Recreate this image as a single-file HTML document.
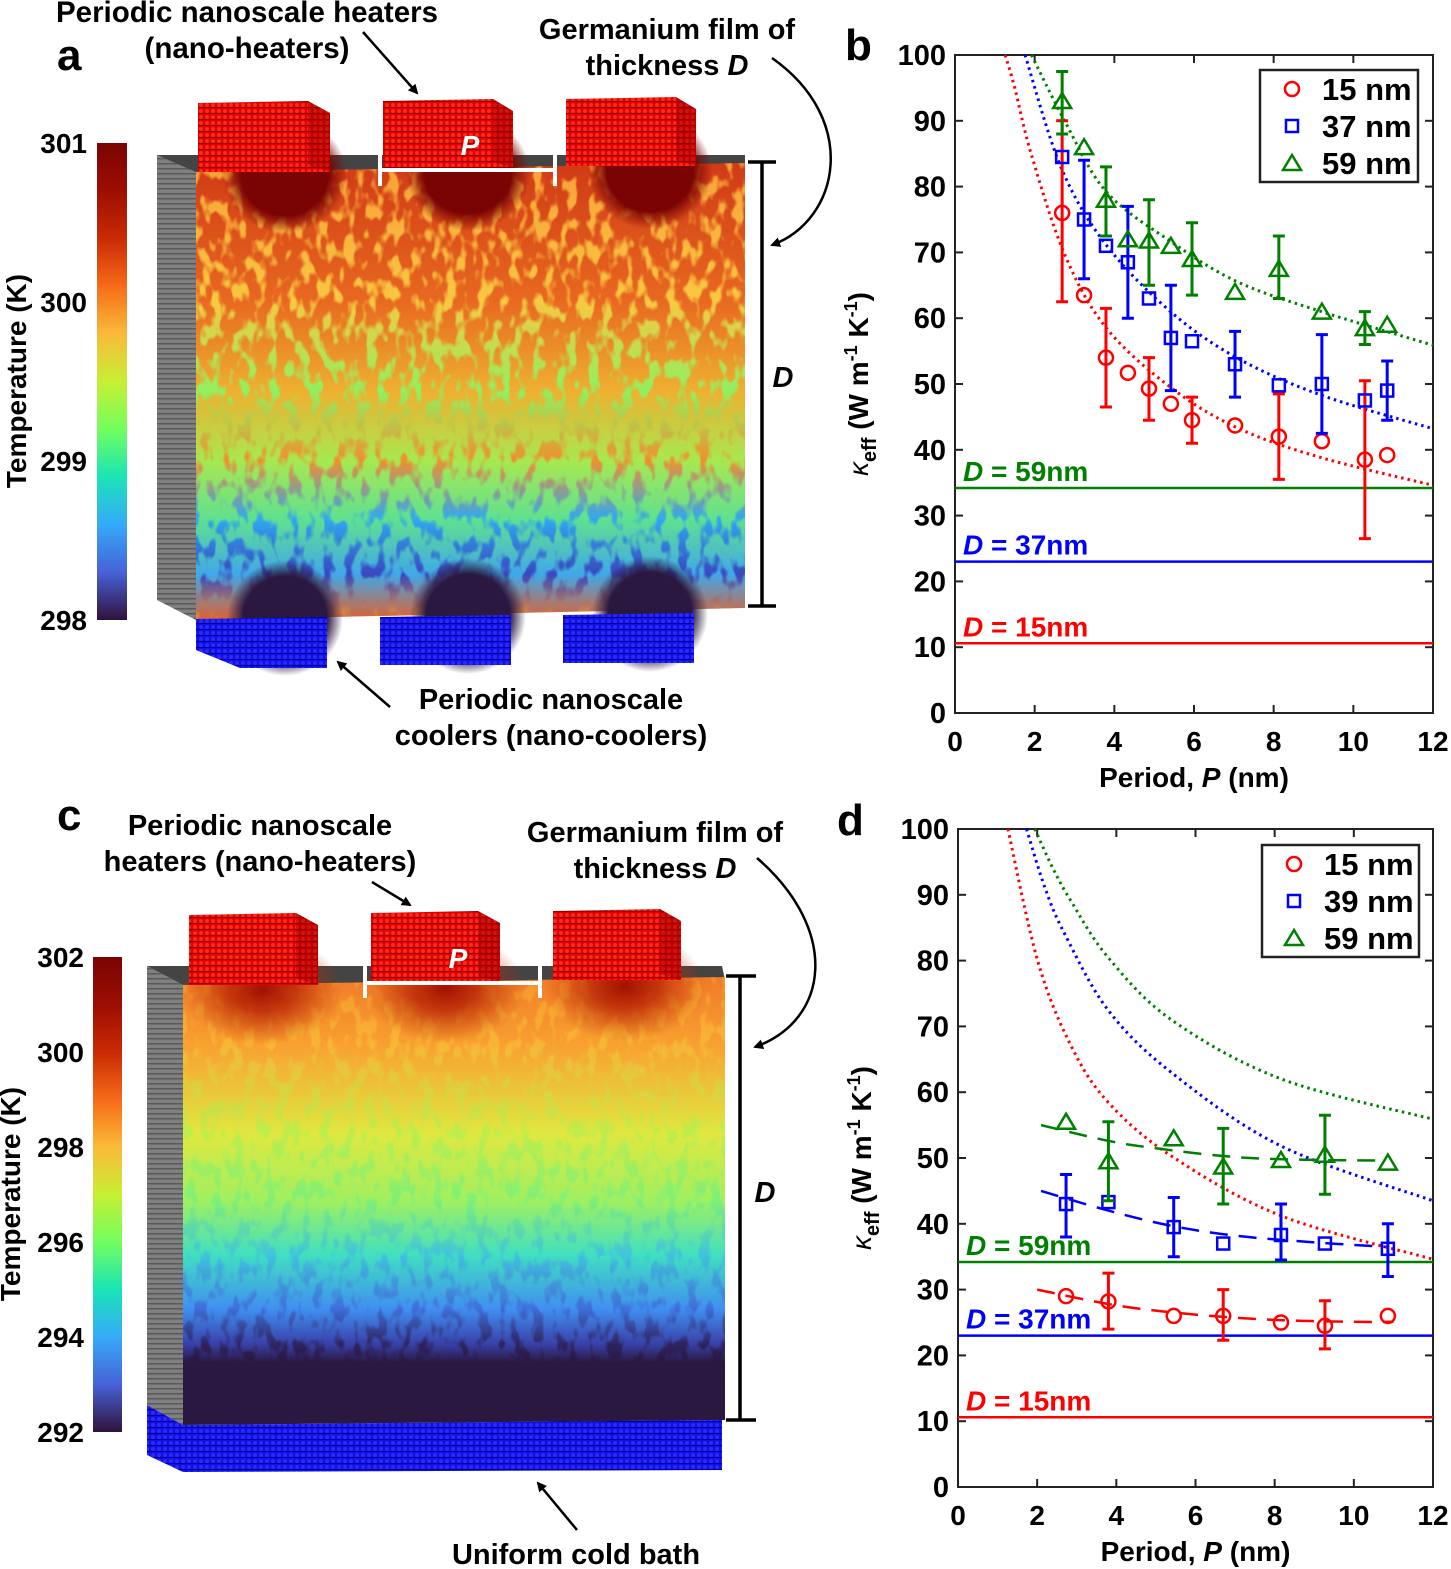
<!DOCTYPE html>
<html><head><meta charset="utf-8"><style>
html,body{margin:0;padding:0;background:#fff;}
svg{display:block;font-family:"Liberation Sans",Arial,sans-serif;font-weight:bold;}
</style></head><body>
<svg id="fig" width="1451" height="1569" viewBox="0 0 1451 1569" xmlns="http://www.w3.org/2000/svg">
<defs>
<linearGradient id="turbo" x1="0" y1="1" x2="0" y2="0">
<stop offset="0" stop-color="#30123b"/><stop offset="0.1" stop-color="#4662d7"/><stop offset="0.2" stop-color="#36aaf9"/><stop offset="0.3" stop-color="#1ae4b6"/><stop offset="0.4" stop-color="#72fe5e"/><stop offset="0.5" stop-color="#c8ef34"/><stop offset="0.6" stop-color="#faba39"/><stop offset="0.7" stop-color="#f66b19"/><stop offset="0.8" stop-color="#ca2a04"/><stop offset="0.9" stop-color="#9c0e02"/><stop offset="1" stop-color="#7a0403"/>
</linearGradient>
<linearGradient id="filmA" x1="0" y1="0" x2="0" y2="1">
<stop offset="0" stop-color="#d03a16"/><stop offset="0.3" stop-color="#e86820"/><stop offset="0.5" stop-color="#eeb030"/><stop offset="0.65" stop-color="#a8e850"/><stop offset="0.78" stop-color="#60e090"/><stop offset="0.9" stop-color="#40a8e8"/><stop offset="1" stop-color="#e06030"/>
</linearGradient>
<linearGradient id="filmA2" x1="0" y1="0" x2="0" y2="1">
<stop offset="0" stop-color="#f8a038"/><stop offset="0.3" stop-color="#f8c840"/><stop offset="0.5" stop-color="#90f060"/><stop offset="0.65" stop-color="#f09030"/><stop offset="0.78" stop-color="#30a8f0"/><stop offset="0.9" stop-color="#3848c0"/><stop offset="1" stop-color="#f09030"/>
</linearGradient>
<linearGradient id="filmC" x1="0" y1="0" x2="0" y2="1">
<stop offset="0" stop-color="#f07a28"/><stop offset="0.15" stop-color="#f8a030"/><stop offset="0.35" stop-color="#e0e840"/><stop offset="0.5" stop-color="#a0f060"/><stop offset="0.62" stop-color="#40e0c0"/><stop offset="0.74" stop-color="#4090f0"/><stop offset="0.82" stop-color="#3840a8"/><stop offset="0.86" stop-color="#2a1840"/><stop offset="1" stop-color="#2a1840"/>
</linearGradient>
<linearGradient id="filmC2" x1="0" y1="0" x2="0" y2="1">
<stop offset="0" stop-color="#f8a030"/><stop offset="0.15" stop-color="#f8c038"/><stop offset="0.35" stop-color="#b0f050"/><stop offset="0.5" stop-color="#70f080"/><stop offset="0.62" stop-color="#40b8e8"/><stop offset="0.74" stop-color="#4060d0"/><stop offset="0.82" stop-color="#2a1840"/><stop offset="1" stop-color="#2a1840"/>
</linearGradient>
<radialGradient id="hot"><stop offset="0" stop-color="#7a0403"/><stop offset="0.7" stop-color="#7a0403"/><stop offset="1" stop-color="#7a0403" stop-opacity="0"/></radialGradient>
<radialGradient id="hotSoft"><stop offset="0" stop-color="#a01003"/><stop offset="0.4" stop-color="#b82004" stop-opacity="0.8"/><stop offset="1" stop-color="#c03004" stop-opacity="0"/></radialGradient>
<radialGradient id="cold"><stop offset="0" stop-color="#2a1840"/><stop offset="0.72" stop-color="#2a1840"/><stop offset="1" stop-color="#2a1840" stop-opacity="0"/></radialGradient>
<filter id="nmask" x="0" y="0" width="100%" height="100%">
<feTurbulence type="fractalNoise" baseFrequency="0.09 0.05" numOctaves="2" seed="5"/>
<feColorMatrix type="matrix" values="0 0 0 0 1  0 0 0 0 1  0 0 0 0 1  6 0 0 0 -2.9"/>
</filter>
<mask id="noiseMask" maskUnits="userSpaceOnUse" x="0" y="0" width="1451" height="1569"><rect x="0" y="0" width="1451" height="1569" filter="url(#nmask)"/></mask>
<pattern id="hatchR" width="6" height="6" patternUnits="userSpaceOnUse"><rect width="6" height="6" fill="#e00000"/><circle cx="3" cy="3" r="2" fill="#ff2a1a"/><rect x="0" y="5" width="6" height="1" fill="#900000"/></pattern>
<pattern id="hatchB" width="6" height="6" patternUnits="userSpaceOnUse"><rect width="6" height="6" fill="#1010e0"/><circle cx="3" cy="3" r="2" fill="#2a2aff"/><rect x="0" y="5" width="6" height="1" fill="#0000a0"/></pattern>
<pattern id="hatchG" width="5" height="5" patternUnits="userSpaceOnUse"><rect width="5" height="5" fill="#808080"/><rect x="0" y="3" width="5" height="1.5" fill="#5a5a5a"/></pattern>
<marker id="arr" markerWidth="10" markerHeight="10" refX="8" refY="5" orient="auto" markerUnits="userSpaceOnUse"><path d="M0,0 L10,5 L0,10 z" fill="#000"/></marker>
</defs>

<!-- ===== Panel a ===== -->
<g>
<text x="57" y="70" font-size="44">a</text>
<text x="247" y="22" font-size="29.5" text-anchor="middle">Periodic nanoscale heaters</text>
<text x="247" y="58" font-size="29.5" text-anchor="middle">(nano-heaters)</text>
<line x1="363" y1="32" x2="417" y2="93" stroke="#000" stroke-width="2.5" marker-end="url(#arr)"/>
<text x="667" y="39" font-size="29" text-anchor="middle">Germanium film of</text>
<text x="667" y="75" font-size="29" text-anchor="middle">thickness <tspan font-style="italic">D</tspan></text>
<path d="M772,58 C860,120 840,220 772,245" fill="none" stroke="#000" stroke-width="2.5" marker-end="url(#arr)"/>
<polygon points="157,155 196,170 196,620 157,600" fill="url(#hatchG)"/>
<polygon points="157,155 745,155 745,170 196,172" fill="#444"/>
<g>
<polygon points="196,172 745,163 745,608 196,620" fill="url(#filmA)"/>
<polygon points="196,172 745,163 745,608 196,620" fill="url(#filmA2)" mask="url(#noiseMask)"/>
<ellipse cx="285" cy="175" rx="62" ry="58" fill="url(#hot)"/>
<ellipse cx="468" cy="173" rx="62" ry="58" fill="url(#hot)"/>
<ellipse cx="650" cy="171" rx="62" ry="58" fill="url(#hot)"/>
<ellipse cx="285" cy="618" rx="58" ry="58" fill="url(#cold)"/>
<ellipse cx="468" cy="616" rx="58" ry="58" fill="url(#cold)"/>
<ellipse cx="650" cy="614" rx="58" ry="58" fill="url(#cold)"/>
</g>
<g>
<polygon points="198,103 308,101 330,113 330,172 198,172" fill="url(#hatchR)"/><polygon points="308,101 330,113 330,172 308,165" fill="#a00000" opacity="0.5"/>
<polygon points="383,101 493,99 513,111 513,168 383,168" fill="url(#hatchR)"/><polygon points="493,99 513,111 513,168 493,162" fill="#a00000" opacity="0.5"/>
<polygon points="566,99 676,97 696,109 696,166 566,166" fill="url(#hatchR)"/><polygon points="676,97 696,109 696,166 676,160" fill="#a00000" opacity="0.5"/>
</g>
<g>
<polygon points="196,619 327,617 327,668 240,668 196,650" fill="url(#hatchB)"/>
<polygon points="380,617 511,615 511,665 380,665" fill="url(#hatchB)"/>
<polygon points="563,615 694,613 694,663 563,663" fill="url(#hatchB)"/>
</g>
<g stroke="#fff" stroke-width="4"><line x1="380" y1="170" x2="555" y2="170"/><line x1="380" y1="153" x2="380" y2="186"/><line x1="555" y1="153" x2="555" y2="186"/></g>
<text x="470" y="155" font-size="28" font-style="italic" fill="#fff" text-anchor="middle">P</text>
<g stroke="#000" stroke-width="3.5"><line x1="762" y1="162" x2="762" y2="606"/><line x1="748" y1="162" x2="776" y2="162"/><line x1="748" y1="606" x2="776" y2="606"/></g>
<text x="783" y="387" font-size="29" font-style="italic" text-anchor="middle">D</text>
<text x="551" y="709" font-size="29" text-anchor="middle">Periodic nanoscale</text>
<text x="551" y="745" font-size="29" text-anchor="middle">coolers (nano-coolers)</text>
<line x1="390" y1="707" x2="338" y2="662" stroke="#000" stroke-width="2.5" marker-end="url(#arr)"/>
<rect x="97" y="143" width="30" height="477" fill="url(#turbo)"/>
<g font-size="28" text-anchor="end">
<text x="87" y="153">301</text><text x="87" y="312">300</text><text x="87" y="471">299</text><text x="87" y="630">298</text></g>
<text transform="translate(26,381) rotate(-90)" font-size="28" text-anchor="middle">Temperature (K)</text>
</g>

<!-- ===== Panel c ===== -->
<g>
<text x="57" y="830" font-size="44">c</text>
<text x="260" y="835" font-size="29" text-anchor="middle">Periodic nanoscale</text>
<text x="260" y="871" font-size="29" text-anchor="middle">heaters (nano-heaters)</text>
<line x1="372" y1="882" x2="410" y2="905" stroke="#000" stroke-width="2.5" marker-end="url(#arr)"/>
<text x="655" y="842" font-size="29" text-anchor="middle">Germanium film of</text>
<text x="655" y="878" font-size="29" text-anchor="middle">thickness <tspan font-style="italic">D</tspan></text>
<path d="M757,858 C840,930 830,1020 755,1047" fill="none" stroke="#000" stroke-width="2.5" marker-end="url(#arr)"/>
<polygon points="147,966 183,985 183,1425 147,1405" fill="url(#hatchG)"/>
<polygon points="147,966 722,966 725,980 183,985" fill="#444"/>
<g>
<polygon points="183,985 725,977 725,1420 183,1425" fill="url(#filmC)"/>
<polygon points="183,985 725,977 725,1420 183,1425" fill="url(#filmC2)" mask="url(#noiseMask)" opacity="0.7"/>
<ellipse cx="262" cy="990" rx="80" ry="55" fill="url(#hotSoft)"/>
<ellipse cx="445" cy="988" rx="80" ry="55" fill="url(#hotSoft)"/>
<ellipse cx="625" cy="986" rx="80" ry="55" fill="url(#hotSoft)"/>
</g>
<g>
<polygon points="189,915 296,913 318,925 318,985 189,985" fill="url(#hatchR)"/><polygon points="296,913 318,925 318,985 296,978" fill="#a00000" opacity="0.5"/>
<polygon points="371,913 478,911 500,923 500,982 371,982" fill="url(#hatchR)"/><polygon points="478,911 500,923 500,982 478,976" fill="#a00000" opacity="0.5"/>
<polygon points="553,911 660,909 681,921 681,980 553,980" fill="url(#hatchR)"/><polygon points="660,909 681,921 681,980 660,974" fill="#a00000" opacity="0.5"/>
</g>
<polygon points="147,1405 183,1425 722,1420 722,1470 183,1472 147,1455" fill="url(#hatchB)"/>
<g stroke="#fff" stroke-width="4"><line x1="365" y1="983" x2="540" y2="983"/><line x1="365" y1="966" x2="365" y2="998"/><line x1="540" y1="966" x2="540" y2="998"/></g>
<text x="458" y="968" font-size="28" font-style="italic" fill="#fff" text-anchor="middle">P</text>
<g stroke="#000" stroke-width="3.5"><line x1="740" y1="976" x2="740" y2="1420"/><line x1="726" y1="976" x2="756" y2="976"/><line x1="726" y1="1420" x2="756" y2="1420"/></g>
<text x="765" y="1202" font-size="29" font-style="italic" text-anchor="middle">D</text>
<text x="576" y="1564" font-size="29" text-anchor="middle">Uniform cold bath</text>
<line x1="577" y1="1530" x2="538" y2="1483" stroke="#000" stroke-width="2.5" marker-end="url(#arr)"/>
<rect x="93" y="957" width="29" height="475" fill="url(#turbo)"/>
<g font-size="28" text-anchor="end">
<text x="84" y="967">302</text><text x="84" y="1062">300</text><text x="84" y="1157">298</text><text x="84" y="1252">296</text><text x="84" y="1347">294</text><text x="84" y="1442">292</text></g>
<text transform="translate(20,1194) rotate(-90)" font-size="28" text-anchor="middle">Temperature (K)</text>
</g>

<g id="chartB"></g>
<g id="chartD"></g>
</svg>

<script>
// ---------- data ----------
const xTicks = [0, 2, 4, 6, 8, 10, 12];
const yTicks = [0, 10, 20, 30, 40, 50, 60, 70, 80, 90, 100];
// panel b
const bP = [2.69, 3.24, 3.79, 4.34, 4.87, 5.42, 5.95, 7.03, 8.13, 9.21, 10.29, 10.85];
const b15 = [76, 63.5, 54, 51.7, 49.3, 47, 44.5, 43.7, 42, 41.3, 38.5, 39.2];
const b15lo = [62.5, null, 46.5, null, 44.5, null, 41, null, 35.5, null, 26.5, null];
const b15hi = [90, null, 61.5, null, 54, null, 48, null, 48.5, null, 50.5, null];
const b37 = [84.5, 75, 71, 68.5, 63, 57, 56.5, 53, 49.8, 50, 47.5, 49];
const b37lo = [null, 66, null, 60, null, 49, null, 48, null, 42.5, null, 44.5];
const b37hi = [null, 84, null, 77, null, 65, null, 58, null, 57.5, null, 53.5];
const b59 = [93, 86, 78, 72, 71.8, 71, 69, 64, 67.5, 61, 58.5, 59];
const b59lo = [88, null, 72.5, null, 65, null, 63.5, null, 63, null, 56, null];
const b59hi = [97.5, null, 83, null, 78, null, 74.5, null, 72.5, null, 61, null];
// model curves in b (period, kappa)
const bModelP15 = [1.26, 1.5, 1.92, 2.76, 3.8, 5.43, 7.1, 9.2, 12];
const bModel15 = [100, 95, 84.8, 69.6, 58.5, 49.4, 43.3, 38.8, 34.6];
const bModelP37 = [1.76, 2.67, 3.8, 5.43, 7.1, 9.2, 12];
const bModel37 = [100, 82.8, 71.1, 60.9, 53.9, 48.3, 43.2];
const bModelP59 = [1.92, 2.76, 3.8, 5.43, 7.1, 9.2, 12];
const bModel59 = [100, 89.9, 79.2, 71.6, 65.5, 61, 55.9];
// panel d
const dP = [2.73, 3.8, 5.45, 6.7, 8.16, 9.27, 10.86];
const d15 = [29, 28.2, 26, 26, 25, 24.5, 26];
const d15lo = [null, 24, null, 22.3, null, 21, null];
const d15hi = [null, 32.5, null, 30, null, 28.3, null];
const d39 = [43, 43.3, 39.5, 37, 38.3, 37, 36.2];
const d39lo = [38, null, 35, null, 34.5, null, 32];
const d39hi = [47.5, null, 44, null, 43, null, 40];
const d59 = [55.5, 49.5, 53, 48.7, 49.7, 50.5, 49.3];
const d59lo = [null, 43.5, null, 43, null, 44.5, null];
const d59hi = [null, 55.5, null, 54.5, null, 56.5, null];
// model curves in d
const dModelP15 = [1.26, 2.02, 2.86, 3.79, 5.39, 8.17, 12];
const dModel15 = [100, 79.8, 67, 58.5, 50.3, 41.2, 34.6];
const dModelP39 = [1.73, 2.2, 2.7, 3.79, 5.39, 8.17, 12];
const dModel39 = [100, 91, 84, 72.5, 63, 51.8, 43.5];
const dModelP59 = [1.94, 2.4, 2.86, 3.79, 5.39, 8.17, 12];
const dModel59 = [100, 94, 89, 80.5, 71, 62, 55.9];
// dashed trend lines in d
const trendP15 = [2, 4, 6, 8, 10, 11];
const trend15 = [30, 27.6, 26.2, 25.4, 25.1, 25.1];
const trendP39 = [2.1, 3.8, 5.39, 7, 8.96, 10.8];
const trend39 = [45, 42, 39.7, 38.2, 37.2, 36.5];
const trendP59 = [2.1, 3.8, 5.1, 6.7, 8.2, 10.8];
const trend59 = [55, 52.6, 51.4, 50.3, 49.8, 49.6];
// bulk film lines
const bulkVals = [34.2, 23, 10.6];
const bulkLabels = ["59nm", "37nm", "15nm"];
const colors = ["#ff0000", "#0000ff", "#008000"];
const legendB = ["15 nm", "37 nm", "59 nm"];
const legendD = ["15 nm", "39 nm", "59 nm"];

const NS = "http://www.w3.org/2000/svg";
function el(parent, tag, attrs) {
  const e = document.createElementNS(NS, tag);
  for (const k in attrs) e.setAttribute(k, attrs[k]);
  parent.appendChild(e);
  return e;
}
function smoothPath(pts) {
  let d = "M" + pts[0][0].toFixed(1) + "," + pts[0][1].toFixed(1);
  for (let i = 0; i < pts.length - 1; i++) {
    const p0 = pts[Math.max(0, i - 1)], p1 = pts[i], p2 = pts[i + 1], p3 = pts[Math.min(pts.length - 1, i + 2)];
    const c1x = p1[0] + (p2[0] - p0[0]) / 6, c1y = p1[1] + (p2[1] - p0[1]) / 6;
    const c2x = p2[0] - (p3[0] - p1[0]) / 6, c2y = p2[1] - (p3[1] - p1[1]) / 6;
    d += `C${c1x.toFixed(1)},${c1y.toFixed(1)} ${c2x.toFixed(1)},${c2y.toFixed(1)} ${p2[0].toFixed(1)},${p2[1].toFixed(1)}`;
  }
  return d;
}
function marker(g, kind, cx, cy, col) {
  let m;
  if (kind === 0) m = el(g, "circle", {cx: cx, cy: cy, r: 7, fill: "none", stroke: col, "stroke-width": 2.5});
  else if (kind === 1) m = el(g, "rect", {x: cx - 6, y: cy - 6, width: 12, height: 12, fill: "none", stroke: col, "stroke-width": 2.5});
  else m = el(g, "polygon", {points: `${cx},${cy - 8} ${cx + 9},${cy + 7} ${cx - 9},${cy + 7}`, fill: "none", stroke: col, "stroke-width": 2.5});
  return m;
}

function chart(root, L, R, T, B, label, labelX, labelY, P, series, lo, hi, legend, legBox, models, trends) {
  const sx = v => L + (v / 12) * (R - L);
  const sy = v => B - (v / 100) * (B - T);
  const t = el(root, "text", {x: labelX, y: labelY, "font-size": 44});
  t.textContent = label;
  
  
  const frame = el(root, "rect", {x: L, y: T, width: R - L, height: B - T, fill: "none", stroke: "#222", "stroke-width": 2});
  
  
  xTicks.forEach(v => {
    const x = sx(v);
    el(root, "line", {x1: x, y1: B, x2: x, y2: B - 8, stroke: "#222", "stroke-width": 2});
    el(root, "line", {x1: x, y1: T, x2: x, y2: T + 8, stroke: "#222", "stroke-width": 2});
    const tx = el(root, "text", {x: x, y: B + 38, "font-size": 28, "text-anchor": "middle"});
    tx.textContent = v;
    
    
  });
  yTicks.forEach(v => {
    const y = sy(v);
    el(root, "line", {x1: L, y1: y, x2: L + 8, y2: y, stroke: "#222", "stroke-width": 2});
    el(root, "line", {x1: R, y1: y, x2: R - 8, y2: y, stroke: "#222", "stroke-width": 2});
    const ty = el(root, "text", {x: L - 9, y: y + 10, "font-size": 29, "text-anchor": "end"});
    ty.textContent = v;
    
    
  });
  const xt = el(root, "text", {x: (L + R) / 2, y: B + 74, "font-size": 28, "text-anchor": "middle"});
  xt.innerHTML = 'Period, <tspan font-style="italic">P</tspan> (nm)';
  
  
  const yt = el(root, "text", {transform: `translate(${L - 87},${(T + B) / 2}) rotate(-90)`, "font-size": 28, "text-anchor": "middle"});
  yt.innerHTML = '<tspan font-style="italic" font-weight="normal">κ</tspan><tspan font-size="20" dy="8">eff</tspan><tspan dy="-8"> (W m</tspan><tspan font-size="18" dy="-11">-1</tspan><tspan dy="11"> K</tspan><tspan font-size="18" dy="-11">-1</tspan><tspan dy="11">)</tspan>';
  
  

  bulkVals.forEach((v, i) => {
    const col = colors[2 - i];
    const ln = el(root, "line", {x1: L, y1: sy(v), x2: R, y2: sy(v), stroke: col, "stroke-width": 2.5});
    
    
    const lt = el(root, "text", {x: L + 8, y: sy(v) - 7, "font-size": 28, fill: col});
    lt.innerHTML = '<tspan font-style="italic">D</tspan> = ' + bulkLabels[i];
    
    
  });

  models.forEach((m, i) => {
    const pts = m[0].map((p, j) => [sx(p), sy(m[1][j])]);
    const pc = el(root, "path", {d: smoothPath(pts), fill: "none", stroke: colors[i], "stroke-width": 3, "stroke-dasharray": "2.5 4"});
    
    
  });

  if (trends) {
    trends.forEach((tr, i) => {
      const pts = tr[0].map((p, j) => [sx(p), sy(tr[1][j])]);
      const pt = el(root, "path", {d: smoothPath(pts), fill: "none", stroke: colors[i], "stroke-width": 2.5, "stroke-dasharray": "18 11"});
      
      
    });
  }

  series.forEach((s, i) => {
    const g = el(root, "g", {});
    
    
    s.forEach((v, j) => {
      const x = sx(P[j]);
      if (lo[i][j] !== null) {
        const eb = el(g, "path", {d: `M${x},${sy(lo[i][j])}V${sy(hi[i][j])}M${x - 6},${sy(lo[i][j])}H${x + 6}M${x - 6},${sy(hi[i][j])}H${x + 6}`, stroke: colors[i], "stroke-width": 3, fill: "none"});
        
        
      }
      const m = marker(g, i, x, sy(v), colors[i]);
      
      
    });
  });

  const lg = el(root, "g", {});
  
  
  el(lg, "rect", {x: legBox[0], y: legBox[1], width: legBox[2], height: legBox[3], fill: "#fff", stroke: "#222", "stroke-width": 2.5});
  legend.forEach((name, i) => {
    const y = legBox[1] + 19 + i * 37;
    const m = marker(lg, i, legBox[0] + 32, y, colors[i]);
    
    
    const tx = el(lg, "text", {x: legBox[0] + 62, y: y + 11, "font-size": 31});
    tx.textContent = name;
    
    
  });
}

chart(document.getElementById("chartB"), 955, 1433, 55, 713, "b", 845, 60, bP,
  [b15, b37, b59], [b15lo, b37lo, b59lo], [b15hi, b37hi, b59hi], legendB, [1260, 70, 158, 112],
  [[bModelP15, bModel15], [bModelP37, bModel37], [bModelP59, bModel59]], null);
chart(document.getElementById("chartD"), 958, 1433, 829, 1487, "d", 837, 835, dP,
  [d15, d39, d59], [d15lo, d39lo, d59lo], [d15hi, d39hi, d59hi], legendD, [1262, 845, 157, 112],
  [[dModelP15, dModel15], [dModelP39, dModel39], [dModelP59, dModel59]],
  [[trendP15, trend15], [trendP39, trend39], [trendP59, trend59]]);
</script>
</body></html>
